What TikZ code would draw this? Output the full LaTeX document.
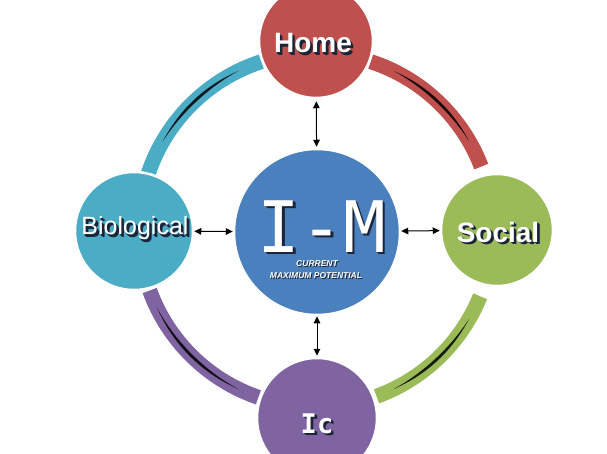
\documentclass[tikz,border=0pt]{standalone}
\usepackage{fontspec}
\setmainfont{Liberation Sans}
\newfontfamily\monof{DejaVu Sans Mono}
\usetikzlibrary{arrows.meta}
\definecolor{cblue}{RGB}{74,128,189}
\definecolor{cred}{RGB}{192,80,77}
\definecolor{cgreen}{RGB}{155,187,89}
\definecolor{cpurple}{RGB}{128,100,162}
\definecolor{cteal}{RGB}{75,172,198}
\definecolor{shadowA}{RGB}{28,36,58}
\newcommand\shtext[1]{\rlap{\kern2.6pt\raisebox{-2.6pt}{\color{shadowA}#1}}\rlap{\kern1.3pt\raisebox{-1.3pt}{\color{shadowA}#1}}{\color{white}#1}}
\newcommand\smshtext[1]{\rlap{\kern1pt\raisebox{-1pt}{\color{shadowA}#1}}{\color{white}#1}}
\newcommand\ringarc[3]{\draw[ringband, #1] ([shift={(316,-230)}]#2:177) arc[start angle=#2, end angle=#3, radius=177pt];}
\newcommand\brush[2]{\fill[black, opacity=.85, shift={(316,-230)}] plot[domain=#1:#2, samples=25, smooth] (\x:{177+1.4*sin((\x-#1)/(#2-#1)*180)}) -- plot[domain=#2:#1, samples=25, smooth] (\x:{177-1.4*sin((\x-#1)/(#2-#1)*180)}) -- cycle;}
\begin{document}
\begin{tikzpicture}[x=1pt, y=1pt,
  ringband/.style={line width=15pt},
  bubble/.style={circle, draw=white, line width=2.5pt, inner sep=0pt},
  lbl/.style={anchor=base, inner sep=0pt},
  dbl/.style={{Triangle[length=7pt,width=6.5pt]}-{Triangle[length=7pt,width=6.5pt]}, line width=1pt, black}]
\fill[white] (0,0) rectangle (607,-454);
\useasboundingbox (0,0) rectangle (607,-454);
\clip (0,0) rectangle (607,-454);
% ring arcs
\ringarc{cred}{21}{72}
\ringarc{cteal}{108}{163}
\ringarc{cpurple}{200}{251}
\ringarc{cgreen}{290}{338}
\brush{30}{64}
\brush{116}{150}
\brush{206}{244}
\brush{296}{330}
% circles
\node[bubble, fill=cred, minimum size=114pt] (home) at (316,-41) {};
\node[bubble, fill=cgreen, minimum size=112pt] (social) at (497,-230) {};
\node[bubble, fill=cteal, minimum size=118pt] (bio) at (134,-231) {};
\node[bubble, fill=cpurple, minimum size=120pt] (ic) at (317,-418) {};
\node[bubble, fill=cblue, minimum size=166pt] (center) at (317,-232) {};
% labels
\node[lbl, font=\bfseries\fontsize{28}{30}\selectfont] (homet) at (313,-53) {\shtext{Home}};
\node[lbl, font=\bfseries\fontsize{28}{30}\selectfont] (socialt) at (498,-242) {\shtext{Social}};
\node[lbl, font=\fontsize{25}{27}\selectfont] (biot) at (135,-235) {\shtext{Biological}};
\node[lbl, font=\monof\bfseries\fontsize{27}{29}\selectfont] (ict) at (317,-433) {\shtext{Ic}};
\node[lbl, font=\monof\fontsize{71}{73}\selectfont] (imt) at (322,-252) {\shtext{I-M}};
\node[lbl, font=\bfseries\itshape\fontsize{8.5}{9}\selectfont] (curt) at (317,-266.5) {\smshtext{CURRENT}};
\node[lbl, font=\bfseries\itshape\fontsize{8.5}{9}\selectfont] (maxt) at (316,-278) {\smshtext{MAXIMUM POTENTIAL}};
% connectors
\draw[dbl, shorten <=2pt, shorten >=1pt] (home) -- (center);
\draw[dbl, shorten <=0pt, shorten >=0pt] (bio) -- (center);
\draw[dbl, shorten <=0pt, shorten >=0pt] (social) -- (center);
\draw[dbl, shorten <=1pt, shorten >=0pt] (ic) -- (center);
\end{tikzpicture}
\end{document}
